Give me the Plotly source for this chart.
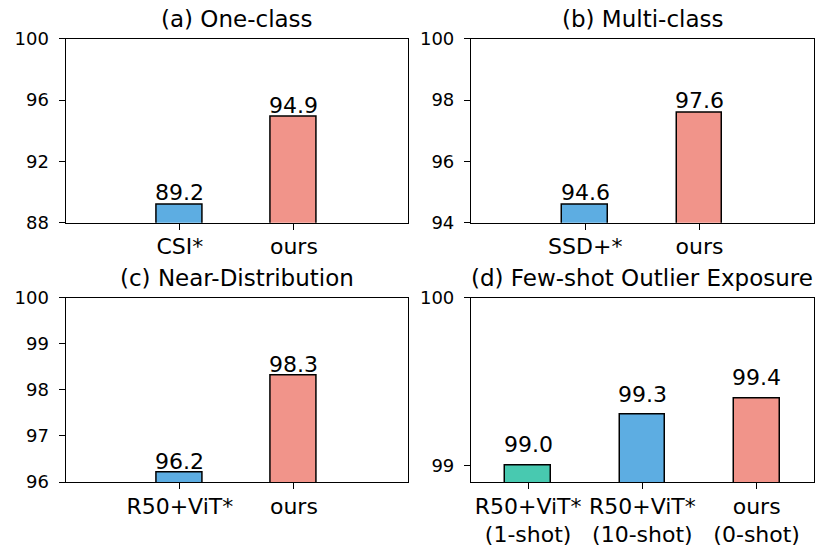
import plotly.graph_objs
import plotly.subplots

titles = [
    "(a) One-class",
    "(b) Multi-class",
    "(c) Near-Distribution",
    "(d) Few-shot Outlier Exposure",
]

methods_a = ["CSI*", "ours"]
scores_a = [89.2, 94.9]
methods_b = ["SSD+*", "ours"]
scores_b = [94.6, 97.6]
methods_c = ["R50+ViT*", "ours"]
scores_c = [96.2, 98.3]
methods_d = ["R50+ViT*<br>(1-shot)", "R50+ViT*<br>(10-shot)", "ours<br>(0-shot)"]
scores_d = [99.0, 99.3, 99.4]

yticks_a = [88, 92, 96, 100]
yticks_b = [94, 96, 98, 100]
yticks_c = [96, 97, 98, 99, 100]
yticks_d = [99, 100]

BLUE = "#5DADE2"
SALMON = "#F1948A"
TEAL = "#48C9B0"
FONT = "DejaVu Sans"

panels = [
    # methods, scores, colours, y range, y ticks, x range, label shift
    (methods_a, scores_a, [BLUE, SALMON], [88, 100], yticks_a, [-1, 2], 0),
    (methods_b, scores_b, [BLUE, SALMON], [94, 100], yticks_b, [-1, 2], 0),
    (methods_c, scores_c, [BLUE, SALMON], [96, 100], yticks_c, [-1, 2], 0),
    (methods_d, scores_d, [TEAL, BLUE, SALMON], [98.9, 100], yticks_d, [-0.5, 2.5], 9),
]

x_domains = [[0.0799, 0.4964], [0.573, 0.990]]
y_domains = [[0.5936, 0.9294], [0.1204, 0.4571]]

f = plotly.subplots.make_subplots(rows=2, cols=2)

for i, (methods, scores, colours, yrange, yticks, xrange, shift) in enumerate(panels):
    row, col = i // 2 + 1, i % 2 + 1
    f.add_trace(
        plotly.graph_objs.Bar(
            x=methods,
            y=scores,
            width=0.4,
            marker=dict(color=colours, line=dict(color="black", width=1.5)),
            showlegend=False,
        ),
        row=row,
        col=col,
    )
    axis_n = "" if i == 0 else str(i + 1)
    for m, s in zip(methods, scores):
        f.add_annotation(
            x=m,
            y=s,
            xref="x" + axis_n,
            yref="y" + axis_n,
            text="{:.1f}".format(s),
            showarrow=False,
            yanchor="bottom",
            yshift=shift - 3,
            font=dict(family=FONT, size=22, color="black"),
        )
    f.add_annotation(
        x=sum(x_domains[col - 1]) / 2,
        y=y_domains[row - 1][1],
        xref="paper",
        yref="paper",
        text=titles[i],
        showarrow=False,
        xanchor="center",
        yanchor="bottom",
        yshift=5,
        font=dict(family=FONT, size=23, color="black"),
    )
    f.update_xaxes(
        domain=x_domains[col - 1],
        range=xrange,
        automargin=False,
        showline=True,
        mirror=True,
        linecolor="black",
        linewidth=1.2,
        ticks="outside",
        ticklen=6,
        tickcolor="black",
        ticklabelstandoff=-2,
        tickfont=dict(family=FONT, size=22, color="black"),
        showgrid=False,
        row=row,
        col=col,
    )
    f.update_yaxes(
        domain=y_domains[row - 1],
        range=yrange,
        tickvals=yticks,
        automargin=False,
        showline=True,
        mirror=True,
        linecolor="black",
        linewidth=1.2,
        ticks="outside",
        ticklen=6,
        tickcolor="black",
        ticklabelstandoff=6,
        tickfont=dict(family=FONT, size=18, color="black"),
        showgrid=False,
        zeroline=False,
        row=row,
        col=col,
    )

f.update_layout(
    width=822,
    height=548,
    margin=dict(l=0, r=0, t=0, b=0),
    paper_bgcolor="white",
    plot_bgcolor="white",
    bargap=0,
    font=dict(family=FONT, color="black"),
)

# the page body has a default 8px margin; drop it so the figure fills the window
f.write_html(
    "out.html",
    config={"displayModeBar": False},
    post_script="document.body.style.margin = '0px';",
)
